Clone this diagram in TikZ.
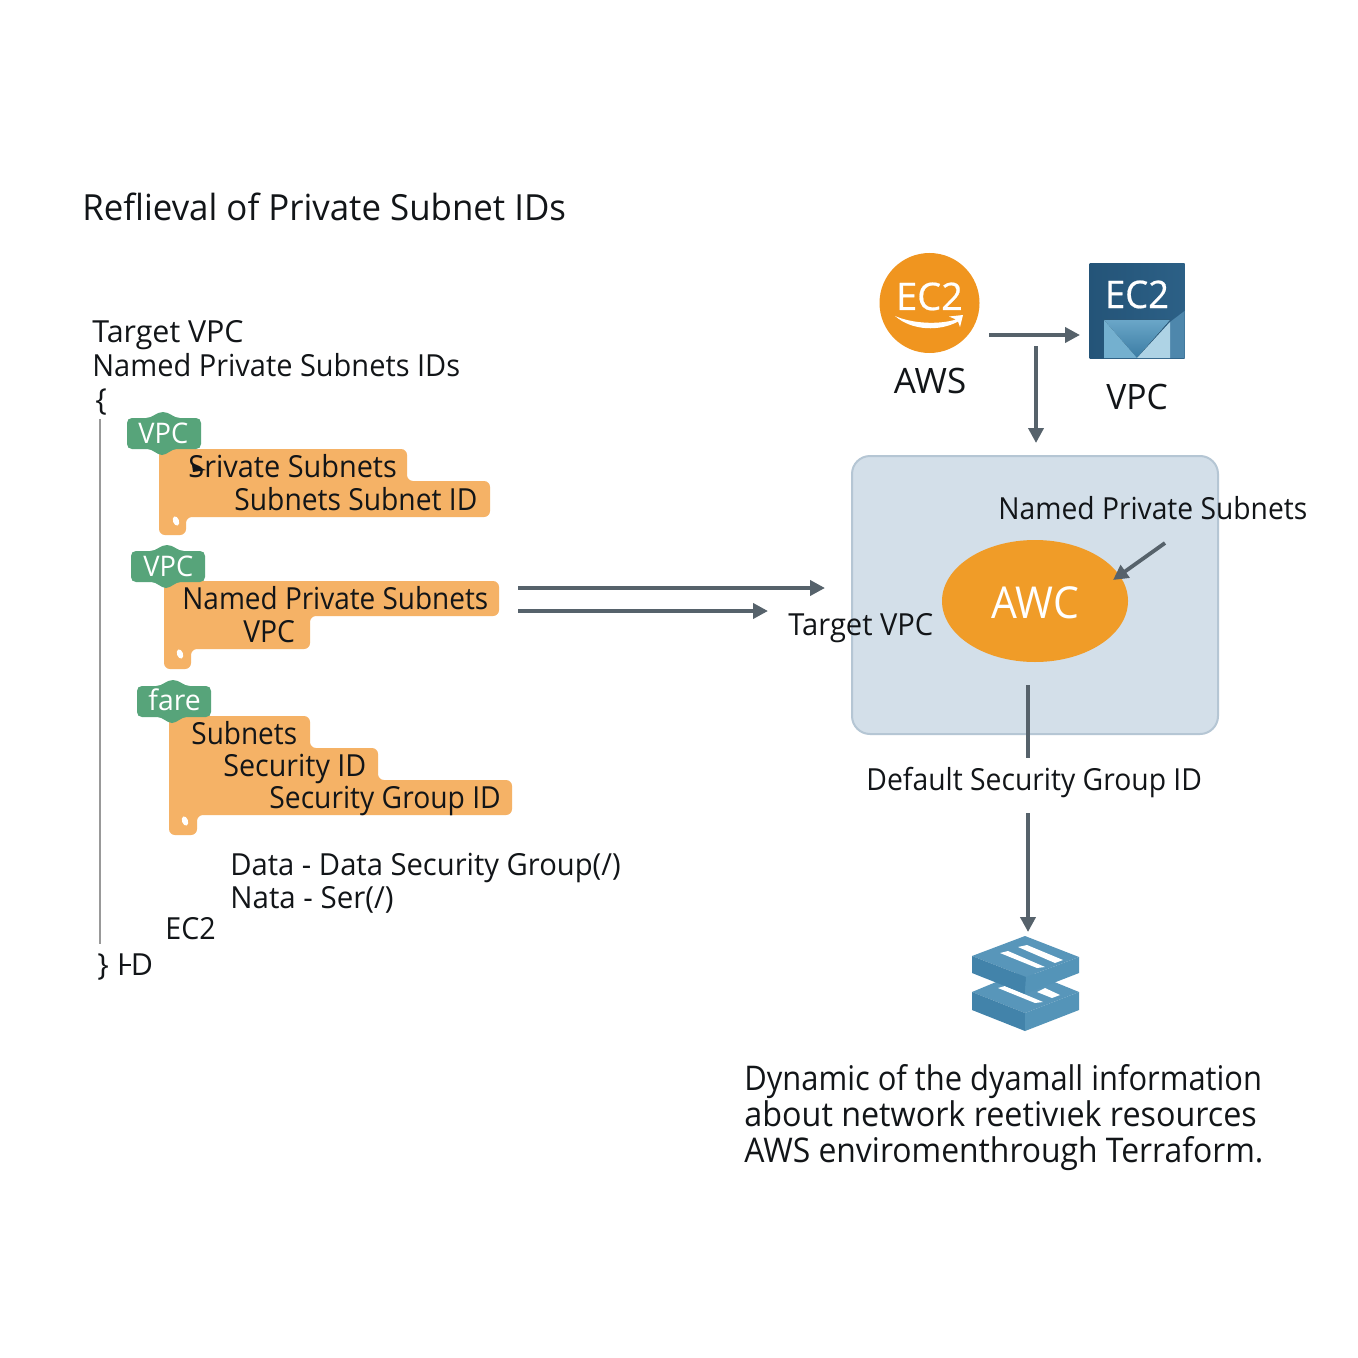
\documentclass[tikz,border=0pt]{standalone}
\usepackage{fontspec}
\setmainfont{Open Sans}
\newfontfamily\iconfont[FakeBold=0.5]{Open Sans}
\usetikzlibrary{arrows.meta,shapes.geometric}
\definecolor{ink}{HTML}{121518}
\definecolor{arrowgrey}{HTML}{56626B}
\definecolor{tagorange}{HTML}{F5B266}
\definecolor{taggreen}{HTML}{57A47A}
\definecolor{panelfill}{HTML}{D3DFE9}
\definecolor{panelline}{HTML}{B5C6D4}
\definecolor{awsorange}{HTML}{F0951F}
\definecolor{awcorange}{HTML}{F09C28}
\definecolor{vpcdark}{HTML}{245478}
\definecolor{vpcdarkb}{HTML}{2C6086}
\definecolor{vpcside}{HTML}{4E87AC}
\definecolor{vpcleft}{HTML}{74B0CF}
\definecolor{vpcmidtop}{HTML}{6AA6C8}
\definecolor{vpcmidlow}{HTML}{3B7CA3}
\definecolor{vpclight}{HTML}{AED3E5}
\definecolor{slabtop}{HTML}{5896BA}
\definecolor{slableft}{HTML}{4283AA}
\definecolor{slabright}{HTML}{5494B8}
\newcommand{\fsz}[1]{\fontsize{#1}{#1}\selectfont}
\newcommand{\sx}[2]{\scalebox{#1}[1]{#2}}
\newcommand{\greentag}[1]{%
  \begin{scope}[shift={(#1)}]
    \fill[taggreen] (5,0) -- (19,0) .. controls (26,0) and (29,-6) .. (36,-6)
      .. controls (43,-6) and (46,0) .. (53,0) -- (69,0)
      .. controls (72,0) and (74,2) .. (74,5) -- (74,26)
      .. controls (74,29) and (72,31) .. (69,31) -- (50,31)
      .. controls (44,31) and (40,37) .. (35,37)
      .. controls (30,37) and (26,31) .. (20,31) -- (5,31)
      .. controls (2,31) and (0,29) .. (0,26) -- (0,5)
      .. controls (0,2) and (2,0) .. (5,0) -- cycle;
  \end{scope}}
\tikzset{
  x=0.5pt, y=-0.5pt,
  tx/.style={anchor=base west,inner sep=0pt,text=ink,font=\fsz{15.2}},
  wtx/.style={anchor=base west,inner sep=0pt,text=white,font=\fsz{14.2}},
  ctx/.style={anchor=base,inner sep=0pt,text=ink,font=\fsz{17.5}},
  captiontx/.style={anchor=base west,inner sep=0pt,text=ink,font=\fsz{17}},
  icontx/.style={anchor=base,inner sep=0pt,text=white,font=\iconfont\fsz{19}},
  blockfill/.style={fill=tagorange,rounded corners=3pt},
  holemark/.style={fill=white,draw=none,ellipse,minimum width=3pt,minimum height=4.8pt,inner sep=0pt,rotate=20},
  link/.style={draw=arrowgrey,line width=1.9pt},
  arrowlink/.style={link,-{Triangle[length=7.5pt,width=7.5pt]}},
}
\begin{document}
\begin{tikzpicture}
\useasboundingbox (0,0) rectangle (1358,1358);
\fill[white] (0,0) rectangle (1358,1358);

% Title
\node[anchor=base west,inner sep=0pt,text=ink,font=\fsz{18}] (title) at (82,221) {\sx{0.968}{Reflieval of Private Subnet IDs}};

% Code column
\node[tx] (l1) at (92,343) {\sx{1.0}{Target VPC}};
\node[tx] (l2) at (92,376) {\sx{0.953}{Named Private Subnets IDs}};
\node[tx] (l3) at (95,410) {\{};
\coordinate (railtop) at (99.5,419);
\coordinate (railend) at (99.5,944);
\draw[draw=black!40,line width=1pt] (railtop) -- (railend);

% Block 1
\fill[blockfill] (159,449) -- (407,449) -- (407,481) -- (490,481) -- (490,517)
  -- (186,517) -- (186,535) -- (159,535) -- cycle;
\node[holemark] (h1) at (176,521) {};
\greentag{127,418}
\node[wtx] (g1) at (138,443) {\sx{0.96}{VPC}};
\node[tx] (b1a) at (188,477) {\sx{0.95}{Srivate Subnets}};
\node[tx] (b1b) at (234,510) {\sx{0.928}{Subnets Subnet ID}};
\fill[ink] (192,464.5) -- (206,470) -- (193,472) -- cycle;

% Block 2
\fill[blockfill] (164,581) -- (499,581) -- (499,616) -- (310,616) -- (310,649)
  -- (191,649) -- (191,669) -- (164,669) -- cycle;
\node[holemark] (h2) at (180,654) {};
\greentag{131,551}
\node[wtx] (g2) at (143,576) {\sx{0.96}{VPC}};
\node[tx] (b2a) at (182,609) {\sx{0.919}{Named Private Subnets}};
\node[tx] (b2b) at (243,642) {\sx{0.93}{VPC}};

% Block 3
\fill[blockfill] (169,716) -- (310,716) -- (310,748) -- (378,748) -- (378,780)
  -- (512,780) -- (512,815) -- (197,815) -- (197,835) -- (169,835) -- cycle;
\node[holemark] (h3) at (185,821) {};
\greentag{137,686}
\node[wtx] (g3) at (148,710) {fare};
\node[tx] (b3a) at (191,744) {\sx{0.92}{Subnets}};
\node[tx] (b3b) at (223,776) {\sx{0.943}{Security ID}};
\node[tx] (b3c) at (269,808) {\sx{0.929}{Security Group ID}};

\node[tx] (d1) at (230,875) {\sx{0.96}{Data - Data Security Group(/)}};
\node[tx] (d2) at (230,908) {\sx{0.97}{Nata - Ser(/)}};
\node[tx] (d3) at (165,939) {\sx{0.94}{EC2}};
\node[tx] (d4) at (97,975) {\}\kern.27em I\kern-.13em\rule[.28em]{.3em}{.07em}D};

% Right: icons
\node[circle,fill=awsorange,minimum size=50pt,inner sep=0pt] (awsicon) at (929.5,303) {};
\node[icontx] (awsec) at (929.5,310) {EC2};
\fill[white] (895,316) .. controls (912,323.5) and (938,325) .. (956,319.5)
  -- (949,316.5) -- (963,315) -- (960,327) -- (958,321.5)
  .. controls (940,331.5) and (912,331) .. (895,316) -- cycle;
\node[ctx] (awslabel) at (930,393) {AWS};

\fill[left color=vpcdark,right color=vpcdarkb] (1089.5,264) rectangle (1184.5,358);
\fill[vpcside] (1184.5,311) -- (1170,322) -- (1170,358) -- (1184.5,358) -- cycle;
\fill[top color=vpcmidtop,bottom color=vpcmidlow] (1104,320) -- (1170,320) -- (1137,358) -- cycle;
\fill[vpcleft] (1104,320) -- (1104,358) -- (1137,358) -- cycle;
\fill[vpclight] (1170,322) -- (1170,358) -- (1137,358) -- cycle;
\node[icontx] (vpcec) at (1137,308) {\sx{0.96}{EC2}};
\node[ctx] (vpclabel) at (1137,409) {\sx{0.96}{VPC}};

\coordinate (splitA) at (989,335);
\coordinate (splitB) at (1080,335);
\coordinate (splitC) at (1036,346);
\coordinate (splitD) at (1036,443);
\draw[arrowlink] (splitA) -- (splitB);
\draw[arrowlink] (splitC) -- (splitD);

% Panel
\node[draw=panelline,fill=panelfill,line width=1pt,rounded corners=9pt,minimum width=183pt,minimum height=139pt,inner sep=0pt] (panel) at (1035,595) {};
\node[ellipse,fill=awcorange,minimum width=93pt,minimum height=61pt,inner sep=0pt] (awc) at (1035,601) {};
\node[anchor=base,inner sep=0pt,text=white,font=\fsz{22}] (awct) at (1035,618) {\sx{0.93}{AWC}};
\node[tx] (nps) at (998,519) {\sx{0.928}{Named Private Subnets}};
\node[tx] (tv) at (788,635) {\sx{0.958}{Target VPC}};
\coordinate (npsA) at (1165,543);
\coordinate (npsB) at (1113,580);
\draw[arrowlink] (npsA) -- (npsB);

% Long arrows
\coordinate (long1a) at (518,588);
\coordinate (long1b) at (825,588);
\coordinate (long2a) at (518,611);
\coordinate (long2b) at (768,611);
\draw[arrowlink] (long1a) -- (long1b);
\draw[arrowlink] (long2a) -- (long2b);

% Lower connectors
\node[tx] (dsg) at (866,790) {\sx{0.931}{Default Security Group ID}};
\coordinate (downA) at (1028,685);
\coordinate (downB) at (1028,758);
\coordinate (downC) at (1028,813);
\coordinate (downD) at (1028,932);
\draw[link] (downA) -- (downB);
\draw[arrowlink] (downC) -- (downD);

% Stack icon: lower slab
\fill[slabtop] (972,992) -- (1025,970) -- (1079,992) -- (1025,1013) -- cycle;
\fill[slableft] (972,992) -- (1025,1013) -- (1025,1031) -- (972,1010) -- cycle;
\fill[slabright] (1079,992) -- (1025,1013) -- (1025,1031) -- (1079,1010) -- cycle;
\fill[white] (998,988) -- (1005,986) -- (1043,1002) -- (1035,1003) -- cycle;
\fill[white] (1037,992) -- (1045,988) -- (1060,995) -- (1052,998) -- cycle;
% upper slab
\fill[slabtop] (972,956) -- (1025,936) -- (1079,957) -- (1026,977) -- cycle;
\fill[slableft] (972,956) -- (1026,977) -- (1025,994) -- (972,973) -- cycle;
\fill[slabright] (1079,957) -- (1026,977) -- (1025,994) -- (1079,973) -- cycle;
\fill[white] (1000,953) -- (1008,951) -- (1045,967) -- (1037,968) -- cycle;
\fill[white] (1018,947) -- (1027,945) -- (1063,960) -- (1055,963) -- cycle;

% Caption
\node[captiontx] (c1) at (744,1090) {\sx{0.908}{Dynamic of the dyamall information}};
\node[captiontx] (c2) at (744,1126) {\sx{0.95}{about network reetivıek resources}};
\node[captiontx] (c3) at (744,1162) {\sx{0.937}{AWS enviromenthrough Terraform.}};
\end{tikzpicture}
\end{document}
